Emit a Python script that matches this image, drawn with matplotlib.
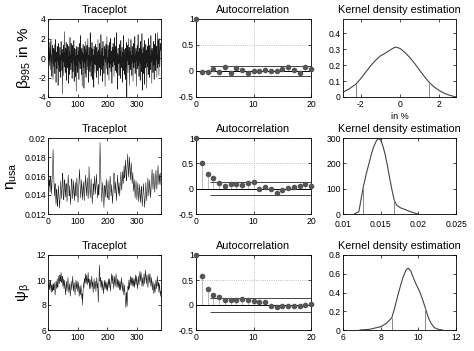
import matplotlib
matplotlib.use("Agg")
import matplotlib.pyplot as plt

plt.rcParams["font.family"] = ["Liberation Sans", "DejaVu Sans"]
plt.rcParams["mathtext.fontset"] = "custom"
plt.rcParams["mathtext.rm"] = "Liberation Sans"
plt.rcParams["mathtext.it"] = "Liberation Sans"
plt.rcParams["mathtext.default"] = "regular"

# ---- traceplot samples ----
beta_trace = [
    0.5, 2.0, -0.3, 1.1, 0.2, -0.8, 1.6, 0.4, -1.2, 0.9, 1.8, -0.5, 0.3, -1.9, 0.7, 1.3, -0.2, -2.2, 0.6, 1.0,
    -0.9, 0.2, 1.4, -1.6, 0.8, -0.4, 1.9, -2.5, 0.1, 0.6, -1.1, 1.2, -0.3, 0.9, -2.8, 0.4, 1.5, -0.7, 0.2, -1.4,
    1.1, -0.6, 0.3, -2.0, 1.7, -0.2, 0.8, -1.3, 0.5, -3.7, 0.9, -0.4, 1.3, -1.8, 0.2, 2.7, -0.9, 0.6, -1.5, 1.0,
    -0.3, 1.6, -2.3, 0.4, 0.9, -1.0, 1.4, -0.6, 0.1, -2.6, 1.2, -0.2, 0.7, -1.7, 2.1, -0.8, 0.3, -1.2, 1.5, -0.5,
    0.8, -2.1, 0.2, 1.3, -1.4, 0.6, -0.3, 1.8, -2.4, 0.5, 1.0, -0.7, 0.2, -1.9, 0.9, -3.4, 0.4, 1.2, -0.8, 0.3,
    -1.5, 1.1, -0.2, 0.7, -2.2, 1.5, -0.4, 0.2, -1.1, 2.3, -0.6, 0.8, -1.7, 0.3, 1.0, -2.9, 0.6, -0.3, 1.4, -1.0,
    0.4, -3.1, 1.2, -0.5, 0.9, -1.6, 0.1, 1.7, -2.0, 0.6, -0.2, 1.3, -1.2, 0.5, 2.0, -0.9, 0.3, -2.5, 1.1, -0.4,
    0.7, -1.4, 2.6, -0.8, 0.2, -1.9, 1.0, -0.3, 1.6, -2.2, 0.4, 0.9, -1.1, 0.3, -3.0, 1.2, -0.6, 0.8, -1.5, 0.5,
    1.4, -0.7, 0.2, -2.0, 1.1, -0.4, 0.6, -1.3, 1.9, -0.2, -2.7, 0.8, 0.1, -1.0, 1.5, -0.5, 0.3, -1.8, 2.4, -0.3,
    0.6, -1.2, 1.0, -2.4, 0.4, 1.7, -0.8, 0.2, -1.6, 1.2, -0.1, 0.7, -2.9, 0.9, -0.4, 1.4, -1.1, 0.3, 2.2, -0.7,
    0.1, -1.7, 1.3, -0.5, 0.8, -2.3, 0.5, 1.6, -1.0, 0.2, -0.6, 2.0, -1.4, 0.7, -0.2, -2.6, 1.1, 0.3, -0.9, 1.5,
    -0.4, 0.9, -1.9, 0.6, 2.1, -0.7, 0.2, -1.3, 1.2, -0.3, 2.6, -1.5, 0.5, -0.1, -3.2, 0.8, 1.0, -0.6, 0.3, -1.8,
    1.4, -0.5, 0.7, -2.1, 0.3, 1.8, -1.0, 0.1, -0.8, 1.1, -2.5, 0.6, 0.2, -1.3, 2.3, -0.4, 0.9, -1.7, 0.4, -0.2,
    1.0, -2.2, 0.5, -0.9, 1.6, -4.0, 0.8, -0.3, 1.3, -1.5, 0.2, 2.0, -0.7, 0.6, -2.8, 1.1, -0.1, 0.7, -1.2, 1.9,
    -0.6, 0.3, -1.8, 1.2, -0.4, 0.8, -2.4, 0.5, 1.5, -1.0, 0.1, -0.5, 2.2, -1.6, 0.4, -0.2, 1.0, -2.9, 0.7, -0.3,
    1.3, -1.1, 0.2, 2.4, -0.8, 0.6, -1.9, 1.0, -0.4, 0.3, -2.3, 1.7, -0.6, 0.9, -1.4, 0.2, 2.5, -3.3, 0.5, -0.7,
    1.1, -1.6, 0.4, -0.2, 1.8, -2.7, 0.7, 0.1, -1.0, 1.4, -0.5, 0.8, -3.1, 0.3, 1.2, -0.9, 0.6, -1.7, 2.0, -0.3,
    0.5, -2.0, 1.3, -0.6, 0.2, -1.2, 2.3, -0.4, 0.8, -2.6, 1.0, -0.1, 0.6, -1.5, 1.7, -0.8, 0.3, -2.2, 1.4, 0.0,
    -0.7, 2.5, -1.3, 0.4, -0.2, 1.2, -2.0, 0.7, 2.6, -1.0, 0.3, -0.6, 1.9, -1.8, 0.5, 2.0, -0.9, 0.4, 1.5, 0.8,
]

eta_trace = [
    .0180, .0172, .0163, .0158, .0150, .0156, .0149, .0143, .0152, .0160, .0155, .0147, .0141, .0150, .0158, .0165, .0172, .0188, .0176, .0162,
    .0154, .0145, .0139, .0147, .0152, .0144, .0136, .0130, .0138, .0146, .0141, .0133, .0128, .0135, .0142, .0150, .0144, .0137, .0131, .0126,
    .0134, .0141, .0148, .0155, .0149, .0142, .0136, .0143, .0150, .0163, .0157, .0148, .0140, .0135, .0142, .0149, .0156, .0151, .0144, .0138,
    .0145, .0152, .0147, .0139, .0133, .0140, .0148, .0155, .0161, .0153, .0146, .0139, .0143, .0150, .0144, .0137, .0130, .0138, .0146, .0152,
    .0157, .0150, .0143, .0136, .0142, .0149, .0155, .0148, .0141, .0134, .0140, .0147, .0153, .0146, .0139, .0144, .0151, .0158, .0152, .0145,
    .0138, .0132, .0139, .0146, .0153, .0160, .0167, .0158, .0150, .0143, .0137, .0144, .0150, .0156, .0149, .0142, .0135, .0141, .0148, .0154,
    .0147, .0140, .0134, .0142, .0149, .0155, .0161, .0154, .0146, .0139, .0145, .0152, .0158, .0151, .0143, .0136, .0142, .0149, .0170, .0158,
    .0150, .0143, .0137, .0144, .0151, .0157, .0150, .0142, .0136, .0131, .0138, .0145, .0152, .0147, .0140, .0146, .0153, .0160, .0154, .0147,
    .0141, .0148, .0155, .0162, .0156, .0149, .0143, .0137, .0144, .0151, .0147, .0140, .0146, .0158, .0172, .0195, .0178, .0163, .0154, .0146,
    .0139, .0133, .0140, .0147, .0153, .0146, .0138, .0132, .0127, .0135, .0143, .0150, .0145, .0138, .0144, .0151, .0157, .0150, .0143, .0137,
    .0142, .0149, .0155, .0148, .0141, .0135, .0140, .0147, .0154, .0160, .0153, .0146, .0139, .0145, .0151, .0144, .0137, .0131, .0138, .0145,
    .0151, .0157, .0163, .0156, .0149, .0142, .0148, .0154, .0147, .0140, .0134, .0141, .0148, .0155, .0161, .0154, .0147, .0141, .0147, .0153,
    .0146, .0139, .0144, .0150, .0157, .0164, .0158, .0151, .0145, .0151, .0158, .0165, .0159, .0152, .0158, .0164, .0171, .0165, .0158, .0163,
    .0170, .0177, .0168, .0161, .0155, .0162, .0169, .0175, .0183, .0174, .0166, .0159, .0165, .0172, .0180, .0171, .0163, .0156, .0162, .0168,
    .0174, .0166, .0158, .0152, .0158, .0164, .0157, .0150, .0144, .0150, .0156, .0149, .0143, .0137, .0143, .0149, .0155, .0148, .0141, .0135,
    .0141, .0147, .0153, .0146, .0139, .0133, .0139, .0145, .0151, .0144, .0138, .0132, .0137, .0143, .0149, .0142, .0135, .0128, .0134, .0140,
    .0146, .0152, .0145, .0139, .0133, .0127, .0134, .0141, .0147, .0153, .0146, .0140, .0134, .0140, .0146, .0152, .0158, .0151, .0145, .0139,
    .0144, .0150, .0156, .0149, .0143, .0137, .0143, .0149, .0155, .0161, .0167, .0159, .0152, .0146, .0151, .0157, .0163, .0156, .0149, .0143,
    .0148, .0154, .0160, .0166, .0159, .0152, .0146, .0152, .0158, .0165, .0171, .0164, .0157, .0151, .0156, .0162, .0157, .0151, .0158, .0163,
]

psi_trace = [
    8.0, 8.4, 9.0, 9.4, 9.9, 9.6, 9.2, 9.5, 9.9, 9.7, 9.3, 9.0, 9.3, 9.6, 9.4, 9.1, 9.3, 9.7, 9.5, 9.2,
    9.4, 9.8, 9.5, 9.1, 8.8, 9.2, 9.6, 9.9, 9.6, 9.3, 9.7, 10.1, 9.8, 9.4, 9.6, 10.0, 10.3, 10.0, 9.7, 10.1,
    10.4, 10.2, 9.9, 10.3, 10.6, 10.2, 9.8, 10.0, 10.3, 9.9, 9.5, 9.8, 10.1, 9.7, 9.3, 9.6, 10.0, 9.6, 9.2, 8.8,
    9.2, 9.6, 9.9, 9.5, 9.1, 9.4, 9.8, 10.2, 9.8, 9.4, 9.0, 9.3, 9.7, 9.4, 9.0, 8.7, 9.1, 9.5, 9.9, 9.6,
    9.2, 9.5, 9.9, 10.3, 9.9, 9.5, 9.1, 9.4, 9.8, 9.5, 9.1, 8.8, 9.2, 9.6, 10.0, 9.7, 9.3, 9.6, 9.9, 9.5,
    9.1, 9.4, 9.8, 9.4, 9.0, 8.7, 9.1, 9.5, 9.2, 8.8, 9.2, 9.6, 9.3, 8.9, 8.5, 8.9, 8.0, 8.6, 9.1, 9.5,
    9.8, 9.4, 9.7, 10.1, 9.8, 10.2, 10.5, 10.1, 9.7, 10.0, 10.4, 10.0, 9.6, 9.9, 10.3, 10.6, 10.2, 9.8, 10.1, 9.7,
    9.3, 9.6, 10.0, 9.7, 9.3, 9.6, 10.0, 10.3, 9.9, 9.5, 9.8, 9.4, 9.0, 9.4, 9.8, 10.1, 9.7, 9.3, 9.6, 9.9,
    9.5, 9.1, 9.4, 9.8, 10.2, 9.8, 9.4, 9.7, 8.9, 8.2, 8.9, 9.6, 10.3, 11.2, 10.5, 9.9, 10.2, 9.8, 9.4, 9.7,
    10.0, 9.6, 9.2, 9.5, 9.9, 9.6, 9.2, 8.9, 9.3, 9.7, 10.0, 9.7, 9.3, 9.6, 9.9, 9.5, 9.2, 9.5, 9.8, 9.4,
    9.1, 9.4, 9.8, 10.1, 9.8, 9.4, 9.7, 10.1, 9.8, 9.4, 9.1, 9.4, 9.8, 10.2, 10.5, 10.1, 9.7, 10.0, 10.4, 10.1,
    9.7, 9.3, 9.6, 10.0, 10.3, 9.9, 9.5, 9.8, 10.2, 10.5, 10.1, 9.7, 9.4, 9.7, 10.1, 9.8, 9.4, 9.7, 10.0, 9.6,
    9.2, 9.5, 9.9, 9.6, 9.2, 9.5, 9.9, 10.2, 9.8, 9.4, 9.1, 9.4, 9.8, 9.5, 9.1, 8.8, 9.2, 9.6, 9.3, 8.9,
    8.5, 8.1, 7.8, 8.4, 9.0, 8.6, 7.9, 8.5, 9.1, 9.5, 9.2, 9.6, 10.0, 9.7, 9.3, 9.6, 10.0, 10.3, 9.9, 9.6,
    9.9, 10.2, 9.8, 9.5, 9.8, 10.2, 9.9, 9.5, 9.8, 10.1, 9.7, 9.4, 9.7, 10.1, 10.4, 10.0, 9.6, 9.9, 10.3, 10.0,
    9.6, 9.3, 9.6, 10.0, 10.3, 10.0, 9.6, 9.9, 10.3, 10.7, 10.3, 9.9, 10.2, 10.6, 10.2, 9.8, 9.5, 9.8, 10.2, 9.9,
    9.5, 9.8, 10.2, 10.5, 10.1, 9.7, 10.0, 10.4, 10.8, 10.4, 10.0, 9.7, 10.0, 10.4, 10.1, 9.7, 9.4, 9.7, 10.1, 10.5,
    10.2, 9.8, 10.1, 10.5, 10.2, 9.8, 9.5, 9.8, 10.2, 9.9, 9.5, 9.2, 9.5, 9.9, 9.6, 9.2, 8.9, 9.3, 9.7, 9.4,
    9.0, 9.3, 9.7, 10.0, 9.7, 9.3, 9.6, 10.0, 10.3, 9.9, 9.5, 9.8, 9.4, 9.0, 9.3, 9.7, 9.4, 9.0, 8.7, 9.1,
]

# ---- autocorrelation (lags 0..20) ----
lags = list(range(21))
beta_acf = [1.0, -0.01, -0.01, 0.03, -0.02, 0.08, -0.03, 0.05, 0.02, -0.04, 0.0,
            0.0, 0.02, 0.0, 0.0, 0.04, 0.08, 0.02, -0.03, 0.08, 0.03]
eta_acf = [1.0, 0.5, 0.29, 0.22, 0.11, 0.06, 0.10, 0.10, 0.08, 0.11, 0.13,
           0.0, 0.03, -0.01, -0.08, -0.02, 0.02, 0.03, 0.05, 0.10, 0.06]
psi_acf = [1.0, 0.59, 0.33, 0.21, 0.16, 0.10, 0.11, 0.11, 0.13, 0.11, 0.09,
           0.07, 0.07, -0.01, -0.03, -0.02, -0.01, -0.01, -0.01, 0.01, 0.02]
acf_bounds = [0.1, 0.13, 0.14]

# ---- kernel density estimates ----
beta_kde_x = [-2.9, -2.6, -2.25, -2.0, -1.75, -1.5, -1.25, -1.0, -0.75, -0.5, -0.3, -0.2, 0.0,
              0.25, 0.5, 0.75, 1.0, 1.25, 1.5, 1.75, 2.0, 2.25, 2.5, 2.85]
beta_kde_y = [0.03, 0.05, 0.08, 0.115, 0.155, 0.195, 0.23, 0.258, 0.275, 0.295, 0.31, 0.313, 0.305,
              0.28, 0.248, 0.21, 0.168, 0.127, 0.09, 0.062, 0.04, 0.024, 0.012, 0.0]
beta_hpd_x = [-2.25, 1.48]
beta_hpd_y = [0.08, 0.088]

eta_kde_x = [0.0115, 0.0121, 0.0127, 0.0131, 0.0134, 0.0138, 0.0141, 0.0144, 0.0146, 0.0148,
             0.0150, 0.0153, 0.0156, 0.0159, 0.0162, 0.0165, 0.0168, 0.0171, 0.0176, 0.0182,
             0.0189, 0.0195, 0.0199]
eta_kde_y = [0, 9, 108, 160, 194, 240, 267, 287, 295, 297, 292, 268, 234, 190, 141, 95, 55, 36,
             25, 18, 10, 4, 0]
eta_hpd_x = [0.0127, 0.0168]
eta_hpd_y = [108, 55]

psi_kde_x = [6.9, 7.4, 8.0, 8.3, 8.59, 8.75, 8.9, 9.05, 9.2, 9.35, 9.46, 9.6, 9.75, 9.9,
             10.05, 10.2, 10.38, 10.5, 10.65, 10.85, 11.1, 11.3]
psi_kde_y = [0.0, 0.007, 0.035, 0.07, 0.13, 0.24, 0.36, 0.47, 0.57, 0.64, 0.66, 0.63, 0.55, 0.48,
             0.42, 0.34, 0.23, 0.15, 0.08, 0.025, 0.005, 0.0]
psi_hpd_x = [8.59, 10.38]
psi_hpd_y = [0.13, 0.23]

row_labels = [r"$\beta_{995}$ in %", r"$\eta_{usa}$", r"$\psi_{\beta}$"]
traces = [beta_trace, eta_trace, psi_trace]
acfs = [beta_acf, eta_acf, psi_acf]
kdes = [(beta_kde_x, beta_kde_y, beta_hpd_x, beta_hpd_y),
        (eta_kde_x, eta_kde_y, eta_hpd_x, eta_hpd_y),
        (psi_kde_x, psi_kde_y, psi_hpd_x, psi_hpd_y)]

trace_ylim = [(-4, 4), (0.012, 0.02), (6, 12)]
trace_yticks = [[-4, -2, 0, 2, 4], [0.012, 0.014, 0.016, 0.018, 0.02], [6, 8, 10, 12]]
trace_yticklabels = [["-4", "-2", "0", "2", "4"],
                     ["0.012", "0.014", "0.016", "0.018", "0.02"],
                     ["6", "8", "10", "12"]]
kde_xlim = [(-2.9, 2.85), (0.01, 0.025), (6, 12)]
kde_xticks = [[-2, 0, 2], [0.01, 0.015, 0.02, 0.025], [6, 8, 10, 12]]
kde_xticklabels = [["-2", "0", "2"], ["0.01", "0.015", "0.02", "0.025"], ["6", "8", "10", "12"]]
kde_ylim = [(0, 0.49), (0, 300), (0, 0.8)]
kde_yticks = [[0, 0.1, 0.2, 0.3, 0.4], [0, 100, 200, 300], [0, 0.2, 0.4, 0.6, 0.8]]
kde_yticklabels = [["0", "0.1", "0.2", "0.3", "0.4"], ["0", "100", "200", "300"],
                   ["0", "0.2", "0.4", "0.6", "0.8"]]
label_x = [-0.13, -0.255, -0.13]

fig = plt.figure(figsize=(4.74, 3.51), dpi=100)
W, H = 474.0, 351.0
col_left = [48, 196, 343]
col_width = [113, 115, 113]
row_top = [19, 138, 255]
row_height = [78, 76, 75]

TITLE_FS = 7.8
TICK_FS = 6.2


def style(ax, xpad=2.5):
    ax.tick_params(direction="in", top=True, right=True, length=2, width=0.5,
                   labelsize=TICK_FS, pad=1.5)
    ax.tick_params(axis="x", pad=xpad)
    for s in ax.spines.values():
        s.set_linewidth(0.6)


for r in range(3):
    axes = []
    for c in range(3):
        rect = [col_left[c] / W, 1 - (row_top[r] + row_height[r]) / H,
                col_width[c] / W, row_height[r] / H]
        axes.append(fig.add_axes(rect))
    ax_t, ax_a, ax_k = axes

    # traceplot
    trace = traces[r]
    ax_t.plot(range(len(trace)), trace, color="#1a1a1a", lw=0.4)
    ax_t.set_xlim(0, 380)
    ax_t.set_ylim(*trace_ylim[r])
    ax_t.set_xticks([0, 100, 200, 300])
    ax_t.set_yticks(trace_yticks[r])
    ax_t.set_yticklabels(trace_yticklabels[r])
    ax_t.set_title("Traceplot", fontsize=TITLE_FS, pad=4)
    ax_t.set_ylabel(row_labels[r], fontsize=11)
    ax_t.yaxis.set_label_coords(label_x[r], 0.5)
    style(ax_t)

    # autocorrelation
    acf = acfs[r]
    ax_a.grid(True, ls=":", color="#aaaaaa", lw=0.6)
    ax_a.vlines(lags, 0, acf, color="#b0b0b0", lw=0.6)
    ax_a.axhline(0, color="black", lw=0.7)
    b = acf_bounds[r]
    ax_a.hlines([b, -b], 2.5, 20, color="#444444", lw=0.7)
    ax_a.plot(lags, acf, "o", color="#555555", ms=3, mec="#555555", clip_on=False, zorder=3)
    ax_a.set_xlim(0, 20)
    ax_a.set_ylim(-0.5, 1)
    ax_a.set_xticks([0, 10, 20])
    ax_a.set_yticks([-0.5, 0, 0.5, 1])
    ax_a.set_yticklabels(["-0.5", "0", "0.5", "1"])
    ax_a.set_title("Autocorrelation", fontsize=TITLE_FS, pad=4)
    style(ax_a)

    # kernel density
    kx, ky, hx, hy = kdes[r]
    ax_k.plot(kx, ky, color="#444444", lw=0.8)
    ax_k.vlines(hx, 0, hy, color="#888888", lw=0.7)
    ax_k.set_xlim(*kde_xlim[r])
    ax_k.set_ylim(*kde_ylim[r])
    ax_k.set_xticks(kde_xticks[r])
    ax_k.set_xticklabels(kde_xticklabels[r])
    ax_k.set_yticks(kde_yticks[r])
    ax_k.set_yticklabels(kde_yticklabels[r])
    ax_k.set_title("Kernel density estimation", fontsize=TITLE_FS, pad=4)
    if r == 0:
        ax_k.set_xlabel("in %", fontsize=6.5, labelpad=2)
    style(ax_k, xpad=4 if r == 1 else 2.5)

fig.savefig("out.png", dpi=100)
